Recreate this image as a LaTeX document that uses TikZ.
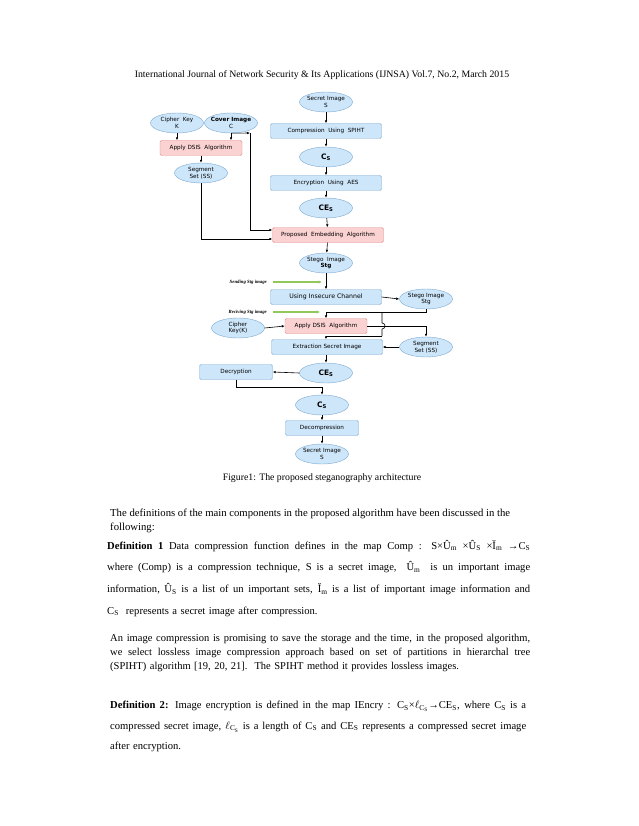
\documentclass[tikz,border=0pt]{standalone}
\usepackage{fontspec}
\setmainfont{Liberation Serif}
\newfontfamily\diagfont{DejaVu Sans}
\usetikzlibrary{shapes.geometric,arrows.meta,calc}
\definecolor{boxfill}{RGB}{205,230,250}
\definecolor{boxline}{RGB}{125,170,210}
\definecolor{pinkfill}{RGB}{250,210,210}
\definecolor{pinkline}{RGB}{225,140,140}
\definecolor{greenarrow}{RGB}{146,200,90}
\newcommand\diag{\diagfont\fontsize{5.7}{6.6}\selectfont}
\newcommand\bigsub[1]{{\fontsize{7.5}{8}\selectfont\bfseries #1\textsubscript{S}}}
\newcommand\fillline[2][420pt]{\hbox to #1{\spaceskip=0pt \xspaceskip=0pt #2}}

\begin{document}
\begin{tikzpicture}[x=1pt, y=1pt,
    every node/.style={font=\diag},
    bluebox/.style={draw=boxline, fill=boxfill, rounded corners=1.5pt, minimum width=111pt, minimum height=15pt, inner sep=1pt},
    pinkbox/.style={bluebox, draw=pinkline, fill=pinkfill},
    oval/.style={ellipse, draw=boxline, fill=boxfill, minimum width=53pt, minimum height=20pt, inner xsep=-2.5pt, inner ysep=-0.5pt, align=center},
    arr/.style={-{Latex[length=3pt,width=2.6pt]}, line width=0.6pt},
    greenarr/.style={-{Latex[length=3.5pt,width=3.4pt]}, draw=greenarrow, line width=1.5pt},
    txt/.style={font=\fontsize{10.7}{14}\selectfont, inner sep=0pt},
    deftxt/.style={font=\fontsize{10.6}{21.6}\selectfont, inner sep=0pt, text width=420pt, align=left, anchor=north west}]
    \fill[white] (0,0) rectangle (638,-826);
    \useasboundingbox (0,0) rectangle (638,-826);

    % header and caption
    \node[txt, font=\fontsize{9.8}{11}\selectfont] (header) at (322,-75) {International Journal of Network Security \& Its Applications (IJNSA) Vol.7, No.2, March 2015};
    \node[txt, font=\fontsize{9.8}{11}\selectfont] (caption) at (322,-478) {Figure1: The proposed steganography architecture};

    % sender side
    \node[oval] (secretA) at (326,-102) {Secret Image\\S};
    \node[bluebox] (compr) at (326,-131) {Compression\ \ Using\ \ SPIHT};
    \node[oval] (csA) at (326,-157) {\bigsub{C}};
    \node[bluebox] (encr) at (326,-183) {Encryption\ \ Using\ \ AES};
    \node[oval] (cesA) at (326,-208) {\bigsub{CE}};
    \node[pinkbox] (embed) at (328,-235) {Proposed\ \ Embedding\ \ Algorithm};
    \node[oval] (stgA) at (326,-263) {Stego\ \ Image\\\textbf{Stg}};
    \node[bluebox, font=\diagfont\fontsize{6.2}{7}\selectfont] (chan) at (326,-297) {Using Insecure Channel};
    \node[oval] (stgB) at (426,-299) {Stego Image\\Stg};

    \node[oval] (keyA) at (177,-123) {Cipher\ \ Key\\K};
    \node[oval] (cover) at (231,-123) {\textbf{Cover Image}\\C};
    \node[pinkbox, minimum width=82pt] (dsisA) at (201,-148) {Apply DSIS\ \ Algorithm};
    \node[oval] (ssA) at (201,-173) {Segment\\Set (SS)};
    \coordinate (covR) at (250,-133);

    \draw[arr] (secretA) -- (compr);
    \draw[arr] (compr) -- (csA);
    \draw[arr] (csA) -- (encr);
    \draw[arr] (encr) -- (cesA);
    \draw[arr] (cesA) -- (embed);
    \draw[arr] (embed) -- (stgA);
    \draw[arr] (stgA) -- (chan);
    \draw[arr] (chan.east) -- (stgB.west);
    \draw[arr] (keyA.south) -- (keyA.south |- dsisA.north);
    \draw[arr] (cover.south) -- (cover.south |- dsisA.north);
    \draw[arr] (dsisA) -- (ssA);
    \draw[arr] (cover.south) -- (covR);
    \draw[arr] (covR) |- ([yshift=5pt]embed.west);
    \draw[arr] (ssA.south) |- ([yshift=-4pt]embed.west);

    % green hints
    \node[font=\fontsize{4.8}{5}\selectfont\bfseries\itshape, anchor=east, inner sep=0pt] (sendlbl) at (267,-282) {Sending Stg image};
    \node[font=\fontsize{4.8}{5}\selectfont\bfseries\itshape, anchor=east, inner sep=0pt] (recvlbl) at (267,-312) {Reciving Stg image};
    \coordinate (sendtip) at (322,-282);
    \coordinate (recvtip) at (320,-312);
    \draw[greenarr] ([xshift=6pt]sendlbl.east) -- (sendtip);
    \draw[greenarr] ([xshift=6pt]recvlbl.east) -- (recvtip);

    % receiver side
    \node[oval] (keyB) at (238,-328) {Cipher\\Key(K)};
    \node[pinkbox, minimum width=82pt] (dsisB) at (326,-326) {Apply DSIS\ \ Algorithm};
    \node[bluebox] (extr) at (327,-347) {Extraction Secret Image};
    \node[oval] (ssB) at (426,-347) {Segment\\Set (SS)};
    \node[oval] (cesB) at (326,-373) {\bigsub{CE}};
    \node[bluebox, minimum width=73pt] (decr) at (236,-372) {Decryption};
    \node[oval] (csB) at (322,-405) {\bigsub{C}};
    \node[bluebox, minimum width=73pt] (decomp) at (322,-428) {Decompression};
    \node[oval] (secretB) at (322,-454) {Secret Image\\S};
    \coordinate (hopTop) at (382,-312.5);
    \coordinate (hopLow) at (382,-336);

    \draw[arr] (stgB.south) |- ([yshift=6pt]dsisB.north) -- (dsisB.north);
    \draw[arr] (keyB.east) -- (dsisB.west);
    \draw[arr] (dsisB.east) -| (ssB.north);
    \draw[line width=0.6pt] (hopTop) -- ++(0,-10.5) arc (90:-90:3) -- (hopLow);
    \draw[arr] (hopLow) -| ([xshift=-1pt]extr.north);
    \draw[arr] (ssB.west) -- (extr.east);
    \draw[arr] (extr.south -| cesB) -- (cesB.north);
    \draw[arr] (cesB.west) -- (decr.east);
    \draw[arr] (decr.south) |- ([yshift=8pt]csB.north) -- (csB.north);
    \draw[arr] (csB) -- (decomp);
    \draw[arr] (decomp) -- (secretB);

    % text below the figure
    \node[txt, anchor=north west, align=left] (intro) at (110,-509) {The definitions of the main components in the proposed algorithm have been discussed in the\\following:};
    \node[deftxt] (defone) at (107,-540) {\fillline[423pt]{\textbf{Definition 1} Data compression function defines in the map\ Comp : S×Û\textsubscript{m} ×Û\textsubscript{S} ×Ĭ\textsubscript{m} →C\textsubscript{S}}\par
      \fillline[423pt]{where (Comp) is a compression technique, S is a secret image,\ \ Û\textsubscript{m}\ \ is un important image}\par
      \fillline[423pt]{information,\ Û\textsubscript{S}\ is a list of un important sets, Ĭ\textsubscript{m}\ is a list of important image information and}\par
      C\textsubscript{S}\ \ represents a secret image after compression.};
    \node[txt, anchor=north west, text width=420pt, align=left, font=\fontsize{10.5}{14}\selectfont] (spiht) at (110,-634) {\fillline{An image compression is promising to save the storage and the time, in the proposed algorithm,}\par
      \fillline{we select lossless image compression approach based on set of partitions in hierarchal tree}\par
      (SPIHT) algorithm [19, 20, 21].\ \ The SPIHT method it provides lossless images.};
    \node[deftxt, text width=416pt, font=\fontsize{10.6}{20.5}\selectfont] (deftwo) at (110,-701) {\fillline[416pt]{\textbf{Definition 2:} Image encryption is defined in the map IEncry : C\textsubscript{S}×$\ell_{\mathrm{C_S}}$→CE\textsubscript{S}, where C\textsubscript{S} is a}\par
      \fillline[416pt]{compressed secret image, $\ell_{\mathrm{C_S}}$ is a length of C\textsubscript{S} and CE\textsubscript{S} represents a compressed secret image}\par
      after encryption.};
\end{tikzpicture}
\end{document}
